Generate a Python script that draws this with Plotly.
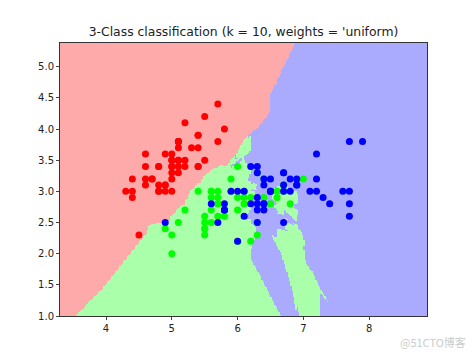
import numpy as np
import plotly.graph_objects as go

# Iris data: sepal length / sepal width, per class
setosa_len = [5.1,4.9,4.7,4.6,5.0,5.4,4.6,5.0,4.4,4.9,5.4,4.8,4.8,4.3,5.8,5.7,5.4,5.1,5.7,5.1,
              5.4,5.1,4.6,5.1,4.8,5.0,5.0,5.2,5.2,4.7,4.8,5.4,5.2,5.5,4.9,5.0,5.5,4.9,4.4,5.1,
              5.0,4.5,4.4,5.0,5.1,4.8,5.1,4.6,5.3,5.0]
setosa_wid = [3.5,3.0,3.2,3.1,3.6,3.9,3.4,3.4,2.9,3.1,3.7,3.4,3.0,3.0,4.0,4.4,3.9,3.5,3.8,3.8,
              3.4,3.7,3.6,3.3,3.4,3.0,3.4,3.5,3.4,3.2,3.1,3.4,4.1,4.2,3.1,3.2,3.5,3.6,3.0,3.4,
              3.5,2.3,3.2,3.5,3.8,3.0,3.8,3.2,3.7,3.3]
versicolor_len = [7.0,6.4,6.9,5.5,6.5,5.7,6.3,4.9,6.6,5.2,5.0,5.9,6.0,6.1,5.6,6.7,5.6,5.8,6.2,5.6,
                  5.9,6.1,6.3,6.1,6.4,6.6,6.8,6.7,6.0,5.7,5.5,5.5,5.8,6.0,5.4,6.0,6.7,6.3,5.6,5.5,
                  5.5,6.1,5.8,5.0,5.6,5.7,5.7,6.2,5.1,5.7]
versicolor_wid = [3.2,3.2,3.1,2.3,2.8,2.8,3.3,2.4,2.9,2.7,2.0,3.0,2.2,2.9,2.9,3.1,3.0,2.7,2.2,2.5,
                  3.2,2.8,2.5,2.8,2.9,3.0,2.8,3.0,2.9,2.6,2.4,2.4,2.7,2.7,3.0,3.4,3.1,2.3,3.0,2.5,
                  2.6,3.0,2.6,2.3,2.7,3.0,2.9,2.9,2.5,2.8]
virginica_len = [6.3,5.8,7.1,6.3,6.5,7.6,4.9,7.3,6.7,7.2,6.5,6.4,6.8,5.7,5.8,6.4,6.5,7.7,7.7,6.0,
                 6.9,5.6,7.7,6.3,6.7,7.2,6.2,6.1,6.4,7.2,7.4,7.9,6.4,6.3,6.1,7.7,6.3,6.4,6.0,6.9,
                 6.7,6.9,5.8,6.8,6.7,6.7,6.3,6.5,6.2,5.9]
virginica_wid = [3.3,2.7,3.0,2.9,3.0,3.0,2.5,2.9,2.5,3.6,3.2,2.7,3.0,2.5,2.8,3.2,3.0,3.8,2.6,2.2,
                 3.2,2.8,2.8,2.7,3.3,3.2,2.8,3.0,2.8,3.0,2.8,3.8,2.8,2.8,2.6,3.0,3.4,3.1,3.0,3.1,
                 3.1,3.1,2.7,3.2,3.3,3.0,2.5,3.0,3.4,3.0]

n_neighbors = 10
step = 0.02
light_colors = ['#FFAAAA', '#AAFFAA', '#AAAAFF']
bold_colors = ['#FF0000', '#00FF00', '#0000FF']

X = np.array([setosa_len + versicolor_len + virginica_len,
              setosa_wid + versicolor_wid + virginica_wid]).T
y = np.array([0] * 50 + [1] * 50 + [2] * 50)

x_min, x_max = X[:, 0].min() - 1, X[:, 0].max() + 1
y_min, y_max = X[:, 1].min() - 1, X[:, 1].max() + 1
xs = np.arange(x_min, x_max, step)
ys = np.arange(y_min, y_max, step)
xx, yy = np.meshgrid(xs, ys)
grid = np.c_[xx.ravel(), yy.ravel()]

# k-NN, uniform weights
d = ((grid[:, None, :] - X[None, :, :]) ** 2).sum(axis=2)
idx = np.argsort(d, axis=1, kind='stable')[:, :n_neighbors]
votes = np.zeros((grid.shape[0], 3))
for c in range(3):
    votes[:, c] = (y[idx] == c).sum(axis=1)
Z = votes.argmax(axis=1).reshape(xx.shape)

fig = go.Figure()
fig.add_trace(go.Heatmap(
    x=xs[:-1] + step / 2, y=ys[:-1] + step / 2, z=Z[:-1, :-1],
    zmin=0, zmax=2, showscale=False, zsmooth=False, hoverinfo='skip',
    colorscale=[[0, light_colors[0]], [0.5, light_colors[1]], [1, light_colors[2]]]))

for c, (lx, ly) in enumerate([(setosa_len, setosa_wid), (versicolor_len, versicolor_wid),
                              (virginica_len, virginica_wid)]):
    fig.add_trace(go.Scatter(x=lx, y=ly, mode='markers',
                             marker=dict(color=bold_colors[c], size=7, line=dict(width=0)),
                             showlegend=False))

fig.update_layout(
    width=466, height=347,
    margin=dict(l=52, r=47, t=35, b=39),
    paper_bgcolor='white', plot_bgcolor='white',
    font=dict(family='DejaVu Sans', size=10, color='#222222'),
    title=dict(text="3-Class classification (k = 10, weights = 'uniform)",
               x=0.5, xanchor='center', xref='paper', y=0.931, yanchor='middle',
               font=dict(size=12.4, color='#222222')),
)
fig.update_xaxes(range=[xs[0], xs[-1]], tickvals=[4, 5, 6, 7, 8], ticks='outside', ticklen=3,
                 showgrid=False, zeroline=False, showline=True, linecolor='#333333',
                 linewidth=1, mirror=True)
fig.update_yaxes(range=[ys[0], ys[-1]], tickvals=[1.0, 1.5, 2.0, 2.5, 3.0, 3.5, 4.0, 4.5, 5.0],
                 tickformat='.1f', ticks='outside', ticklen=3,
                 showgrid=False, zeroline=False, showline=True, linecolor='#333333',
                 linewidth=1, mirror=True)

fig.add_annotation(text='@51CTO博客', xref='paper', yref='paper', x=1.112, y=-0.095,
                   xanchor='right', yanchor='middle', showarrow=False,
                   font=dict(size=11, color='#cccccc', family='Noto Sans CJK SC'))

fig.write_html('out.html')
